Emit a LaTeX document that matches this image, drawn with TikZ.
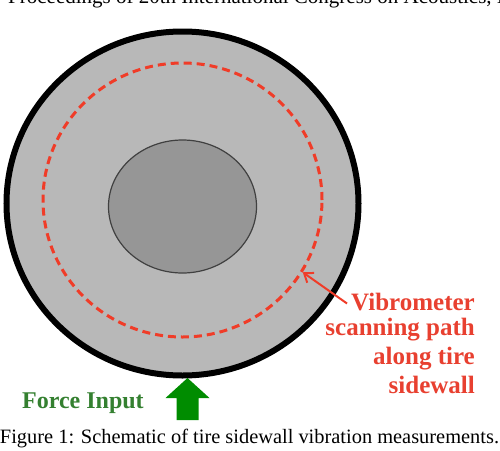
\documentclass[tikz,border=0pt]{standalone}
\usepackage{fontspec}
\setmainfont{Liberation Serif}
\usepackage{tikz}
\usetikzlibrary{shapes.geometric, arrows.meta, positioning, calc}

\definecolor{tiregray}{RGB}{184, 184, 184}
\definecolor{hubgray}{RGB}{150, 150, 150}
\definecolor{scanred}{RGB}{240, 60, 40}
\definecolor{labelred}{RGB}{232, 64, 48}
\definecolor{labelgreen}{RGB}{52, 128, 48}
\definecolor{forcegreen}{RGB}{0, 140, 0}

\begin{document}
\begin{tikzpicture}[
  x=1pt, y=-1pt,
  disc/.style={ellipse, inner sep=0pt},
  redlabel/.style={font=\fontsize{25}{29}\selectfont\bfseries, text=labelred, inner sep=0pt},
]
\useasboundingbox (0,0) rectangle (500,450);

% Header line, cut by the page edge
\node[anchor=base west, font=\fontsize{21}{24}\selectfont, inner sep=0pt] (header) at (8, 3)
{Proceedings of 20th International Congress on Acoustics, ICA 2010};

% Tire, hub and scanning path
\node[disc, draw=black, line width=6pt, fill=tiregray, minimum width=352, minimum height=344] (tire) at (182.5, 203.5) {};
\node[disc, draw=black!75, line width=1.2pt, fill=hubgray, minimum width=148, minimum height=133] (hub) at (182.5, 206.5) {};
\node[disc, draw=scanred, line width=3pt, dash pattern=on 8pt off 5pt, minimum width=279, minimum height=274] (path) at (182.5, 200) {};

% Vibrometer label
\node[redlabel, anchor=base east] (vib1) at (475, 310) {Vibrometer};
\node[redlabel, anchor=north east, align=right] (vib2) at (475, 318)
{scanning path\\along tire\\sidewall};
\draw[scanred, line width=2pt, -{Straight Barb[length=8pt, width=12pt]}] (vib1.west) ++(-4, 2) -- (path.-31);

% Force input
\node[font=\fontsize{24}{28}\selectfont\bfseries, text=labelgreen, anchor=base west, inner sep=0pt] (force) at (22, 408) {Force Input};
\coordinate (forcetip) at (187.5, 378);
\fill[forcegreen] (forcetip) -- ++(22, 20) -- ++(-11, 0) -- ++(0, 22) -- ++(-22, 0) -- ++(0, -22) -- ++(-11, 0) -- cycle;

% Caption
\node[anchor=base, font=\fontsize{20.4}{24}\selectfont, inner sep=0pt] (caption) at (249.5, 443)
{Figure 1: Schematic of tire sidewall vibration measurements.};
\end{tikzpicture}
\end{document}
